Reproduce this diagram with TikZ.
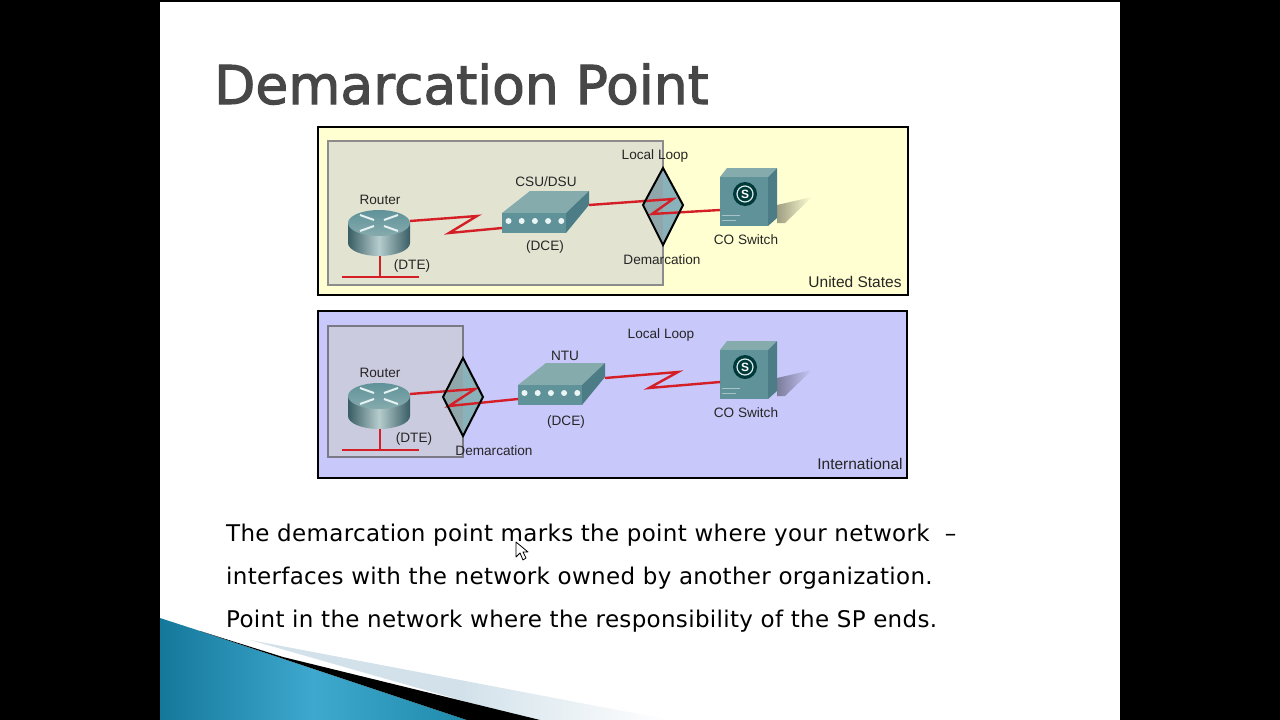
\documentclass[tikz,border=0pt]{standalone}
\usepackage{fontspec}
\setmainfont{Liberation Sans}
\newfontfamily\slidefont[LetterSpace=1.4]{DejaVu Sans}
\newfontfamily\titlefont[FakeBold=2]{DejaVu Sans}
\usepackage{tikz}

\definecolor{tealfront}{HTML}{5F9299}
\definecolor{tealtop}{HTML}{86ABAD}
\definecolor{tealside}{HTML}{4C7D86}
\definecolor{lineRed}{HTML}{D41F27}
\definecolor{panelYellow}{HTML}{FFFFD2}
\definecolor{panelBlue}{HTML}{C8C8FA}
\definecolor{zoneYellow}{HTML}{E3E3D2}
\definecolor{zoneBlue}{HTML}{CBCBDF}
\definecolor{diamondL}{HTML}{8FA6AB}
\definecolor{diamondR}{HTML}{8AB2BA}
\definecolor{wedgeDark}{HTML}{14789B}
\definecolor{wedgeMid}{HTML}{3FA8CE}
\definecolor{wedgeEnd}{HTML}{1F8BAB}
\definecolor{wedgeLight}{HTML}{D2E1EA}

\tikzset{
	lbl/.style={inner sep=0pt,font=\fontsize{13.6}{15}\selectfont,text=black!85},
	tag/.style={inner sep=0pt,font=\fontsize{15.5}{17}\selectfont,text=black!85},
	bodyline/.style={inner sep=0pt,anchor=base west,font=\slidefont\fontsize{23}{27}\selectfont,text=black},
	redline/.style={draw=lineRed,line width=2.4pt,line join=miter},
	lanline/.style={draw=lineRed,line width=1.8pt},
	demarc/.style={draw=black,line width=2pt,line join=miter}
}

% router, modem and switch, drawn around a shift
\newcommand{\routerIcon}[2]{
	\begin{scope}[shift={(#1,#2)}]
		\shade[left color=tealside!75!black,right color=tealside!75!black,middle color=tealtop!60!white]
			(-31,0) -- (-31,20) arc[start angle=180,end angle=0,x radius=31,y radius=13] -- (31,0) -- cycle;
		\shade[top color=tealfront,bottom color=tealtop] (0,0) ellipse[x radius=31,y radius=13];
		\draw[white!90!teal,line width=2pt] (-19,-8) -- (-5,-3) (19,8) -- (5,3) (-19,8) -- (-5,3) (19,-8) -- (5,-3);
	\end{scope}
}
\newcommand{\modemIcon}[2]{
	\begin{scope}[shift={(#1,#2)}]
		\fill[tealtop] (0,0) -- (28,-22) -- (87,-22) -- (64,0) -- cycle;
		\fill[tealfront] (0,0) rectangle (64,20);
		\fill[tealside] (64,0) -- (87,-22) -- (87,-8) -- (64,20) -- cycle;
		\foreach \k in {0,1,2,3,4}
			\fill[white!92!teal] (6.5+13.2*\k,8) circle (3);
	\end{scope}
}
\newcommand{\switchIcon}[3]{
	\begin{scope}[shift={(#1,#2)}]
		\shade[left color=#3!62!black,right color=#3]
			(57,28) -- (92,20) -- (65,46) -- (57,46) -- cycle;
		\fill[tealtop] (0,0) -- (7,-9) -- (57,-9) -- (48,0) -- cycle;
		\fill[tealfront] (0,0) rectangle (48,49);
		\fill[tealside] (48,0) -- (57,-9) -- (57,41) -- (48,49) -- cycle;
		\fill[black!55!teal] (25,17) circle (12);
		\draw[white!85!teal,line width=1.2pt] (25,17) circle (8);
		\node[text=white,inner sep=0pt,font=\bfseries\fontsize{12}{12}\selectfont] at (25,17) {S};
		\draw[white!45!tealfront,line width=.8pt] (2,38) -- (20,38) (2,43) -- (16,43);
	\end{scope}
}

\begin{document}
\begin{tikzpicture}[x=1pt,y=-1pt]

	\useasboundingbox (0,0) rectangle (1280,720);
	\fill[black] (0,0) rectangle (1280,720);
	\fill[white] (160,2) rectangle (1120,720);

	% corner wedges of the slide
	\shade[left color=wedgeLight,right color=white,middle color=wedgeLight] (250,640) -- (670,720) -- (530,720) -- cycle;
	\shade[left color=wedgeDark,right color=wedgeEnd,middle color=wedgeMid]
		(160,618) -- (200,631) -- (467,720) -- (160,720) -- cycle;
	\fill[black] (200,631) -- (283,657) -- (540,720) -- (467,720) -- cycle;

	\node[inner sep=0pt,anchor=base west,text=black!72,font=\titlefont\fontsize{53.5}{58}\selectfont] (title) at (214,104) {Demarcation Point};

	% united states panel
	\draw[fill=panelYellow,line width=1.6pt] (318,127) rectangle (908,295);
	\draw[fill=zoneYellow,draw=black!45,line width=1.2pt] (328,141) rectangle (663,285);

	% international panel
	\draw[fill=panelBlue,line width=1.6pt] (318,311) rectangle (907,478);
	\draw[fill=zoneBlue,draw=black!40!zoneBlue,line width=1.2pt] (328,326) rectangle (463,457);

	\routerIcon{379}{223}
	\modemIcon{502}{213}
	\switchIcon{720}{177}{panelYellow}
	\routerIcon{379}{396}
	\modemIcon{518}{385}
	\switchIcon{720}{350}{panelBlue}

	% demarcation diamonds
	\fill[diamondL] (663,168) -- (643,205) -- (663,245) -- cycle;
	\fill[diamondR] (663,168) -- (683,205) -- (663,245) -- cycle;
	\fill[diamondL] (463,358) -- (443,397) -- (463,436) -- cycle;
	\fill[diamondR] (463,358) -- (483,397) -- (463,436) -- cycle;

	% connector ends
	\coordinate (r1) at (410,221);
	\coordinate (z1) at (477,216);
	\coordinate (z2) at (449,233);
	\coordinate (c1) at (502,228);
	\coordinate (c2) at (589,205);
	\coordinate (z3) at (673,199);
	\coordinate (z4) at (652,214);
	\coordinate (s1) at (720,210);
	\coordinate (r2) at (410,394);
	\coordinate (z5) at (475,389);
	\coordinate (z6) at (449,406);
	\coordinate (n1) at (518,399);
	\coordinate (n2) at (605,378);
	\coordinate (z7) at (678,372);
	\coordinate (z8) at (649,388);
	\coordinate (s2) at (720,382);

	\draw[redline] (r1) -- (z1) -- (z2) -- (c1);
	\draw[redline] (c2) -- (z3) -- (z4) -- (s1);
	\draw[redline] (r2) -- (z5) -- (z6) -- (n1);
	\draw[redline] (n2) -- (z7) -- (z8) -- (s2);

	\draw[demarc] (663,168) -- (683,205) -- (663,245) -- (643,205) -- cycle;
	\draw[demarc] (463,358) -- (483,397) -- (463,436) -- (443,397) -- cycle;

	% lan stubs
	\coordinate (t1) at (380,256);
	\coordinate (b1) at (380,277);
	\coordinate (l1) at (342,277);
	\coordinate (e1) at (419,277);
	\coordinate (t2) at (380,429);
	\coordinate (b2) at (380,450);
	\coordinate (l2) at (342,450);
	\coordinate (e2) at (419,450);
	\draw[lanline] (t1) -- (b1); \draw[lanline] (l1) -- (e1);
	\draw[lanline] (t2) -- (b2); \draw[lanline] (l2) -- (e2);

	\node[lbl] (a1) at (380,200) {Router};
	\node[lbl] (a2) at (412,266) {(DTE)};
	\node[lbl] (a3) at (546,182) {CSU/DSU};
	\node[lbl] (a4) at (545,247) {(DCE)};
	\node[lbl] (a5) at (655,156) {Local Loop};
	\node[lbl] (a6) at (662,260) {Demarcation};
	\node[lbl] (a7) at (746,240) {CO Switch};
	\node[tag] (a8) at (855,282) {United States};

	\node[lbl] (b1n) at (380,373) {Router};
	\node[lbl] (b2n) at (414,439) {(DTE)};
	\node[lbl] (b3n) at (565,356) {NTU};
	\node[lbl] (b4n) at (566,422) {(DCE)};
	\node[lbl] (b5n) at (661,335) {Local Loop};
	\node[lbl] (b6n) at (494,451) {Demarcation};
	\node[lbl] (b7n) at (746,413) {CO Switch};
	\node[tag] (b8n) at (860,464) {International};

	\node[bodyline] (t1n) at (226,541) {The demarcation point marks the point where your network\ \ –};
	\node[bodyline] (t2n) at (226,584) {interfaces with the network owned by another organization.};
	\node[bodyline] (t3n) at (226,627) {Point in the network where the responsibility of the SP ends.};

	% mouse pointer
	\draw[fill=white,line width=.8pt,line join=round] (516,542) -- (516,557) -- (520,553) -- (523,560) -- (526,558) -- (523,552) -- (528,552) -- cycle;

\end{tikzpicture}
\end{document}
